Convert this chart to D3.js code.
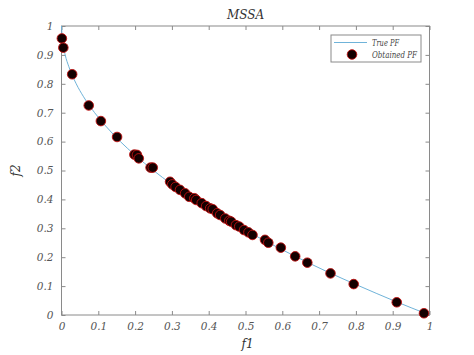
<!DOCTYPE html>
<html>
<head>
<meta charset="utf-8">
<script src="https://cdn.jsdelivr.net/npm/d3@7"></script>
<style>
  body { margin: 0; background: #fff; }
</style>
</head>
<body>
<div id="chart"></div>
<script>
// true Pareto front
var trueF1 = [0, 0.0025, 0.01, 0.02, 0.04, 0.06, 0.09, 0.12, 0.16, 0.2, 0.25, 0.3, 0.36, 0.42, 0.49, 0.56, 0.64, 0.72, 0.81, 0.9, 1];
var trueF2 = [1, 0.95, 0.9, 0.859, 0.8, 0.755, 0.7, 0.654, 0.6, 0.553, 0.5, 0.452, 0.4, 0.352, 0.3, 0.252, 0.2, 0.151, 0.1, 0.051, 0];

// obtained points
var obtF1 = [0.001, 0.005, 0.029, 0.074, 0.107, 0.151, 0.198, 0.205, 0.21, 0.242, 0.248,
             0.295, 0.301, 0.31, 0.322, 0.336, 0.347, 0.361, 0.366, 0.381, 0.393, 0.404, 0.411,
             0.423, 0.431, 0.445, 0.456, 0.461, 0.474, 0.483, 0.496, 0.508, 0.519,
             0.553, 0.562, 0.596, 0.635, 0.668, 0.731, 0.794, 0.911, 0.985];
var obtF2 = [0.957, 0.925, 0.833, 0.725, 0.671, 0.616, 0.555, 0.554, 0.542, 0.51, 0.51,
             0.461, 0.452, 0.443, 0.433, 0.421, 0.409, 0.404, 0.398, 0.387, 0.377, 0.369, 0.366,
             0.352, 0.346, 0.334, 0.326, 0.323, 0.311, 0.306, 0.294, 0.286, 0.277,
             0.26, 0.25, 0.233, 0.203, 0.181, 0.144, 0.107, 0.044, 0.006];

var xTicks = [0, 0.1, 0.2, 0.3, 0.4, 0.5, 0.6, 0.7, 0.8, 0.9, 1];
var yTicks = [0, 0.1, 0.2, 0.3, 0.4, 0.5, 0.6, 0.7, 0.8, 0.9, 1];

var W = 474, H = 355;
var margin = {top: 26, right: 44.5, bottom: 40, left: 61.5};
var width = W - margin.left - margin.right,
    height = H - margin.top - margin.bottom;
var axisColor = '#8a8a8a', labelColor = '#555';
var serif = '"DejaVu Serif", "Liberation Serif", serif';

var svg = d3.select('#chart').append('svg')
    .attr('width', W)
    .attr('height', H)
    .style('font-family', serif)
    .style('font-style', 'italic');

var g = svg.append('g')
    .attr('transform', 'translate(' + margin.left + ',' + margin.top + ')');

var x = d3.scaleLinear().domain([0, 1]).range([0, width]);
var y = d3.scaleLinear().domain([0, 1]).range([height, 0]);

var fmt = function(d) { return d === 0 || d === 1 ? String(d) : d3.format('.1f')(d); };

function styleAxis(sel, showText) {
    sel.attr('font-family', null).attr('font-size', null);
    sel.select('.domain').remove();
    sel.selectAll('line').style('stroke', axisColor);
    sel.selectAll('text')
        .style('fill', labelColor)
        .style('font-size', '10.5px')
        .style('opacity', showText ? 1 : 0);
}

var bottomAxis = g.append('g').attr('transform', 'translate(0,' + height + ')')
    .call(d3.axisBottom(x).tickValues(xTicks).tickFormat(fmt).tickSizeInner(-4).tickSizeOuter(0).tickPadding(8));
styleAxis(bottomAxis, true);
var topAxis = g.append('g')
    .call(d3.axisTop(x).tickValues(xTicks).tickSizeInner(-4).tickSizeOuter(0));
styleAxis(topAxis, false);
var leftAxis = g.append('g')
    .call(d3.axisLeft(y).tickValues(yTicks).tickFormat(fmt).tickSizeInner(-4).tickSizeOuter(0).tickPadding(8));
styleAxis(leftAxis, true);
var rightAxis = g.append('g').attr('transform', 'translate(' + width + ',0)')
    .call(d3.axisRight(y).tickValues(yTicks).tickSizeInner(-4).tickSizeOuter(0));
styleAxis(rightAxis, false);

g.append('rect')
    .attr('width', width).attr('height', height)
    .style('fill', 'none').style('stroke', axisColor).style('stroke-width', 1);

// true PF curve
var trueData = trueF1.map(function(d, i) { return [d, trueF2[i]]; });
var line = d3.line()
    .x(function(d) { return x(d[0]); })
    .y(function(d) { return y(d[1]); })
    .curve(d3.curveMonotoneX);

g.append('path')
    .datum(trueData)
    .attr('d', line)
    .style('fill', 'none')
    .style('stroke', '#6fb3d9')
    .style('stroke-width', 1);

// obtained points
g.selectAll('circle.obt')
    .data(obtF1)
    .enter().append('circle')
    .attr('class', 'obt')
    .attr('cx', function(d) { return x(d); })
    .attr('cy', function(d, i) { return y(obtF2[i]); })
    .attr('r', 4.8)
    .style('fill', '#140000')
    .style('stroke', '#c01010')
    .style('stroke-width', 0.9);

// title and labels
svg.append('text')
    .attr('x', margin.left + width / 2).attr('y', 19)
    .attr('text-anchor', 'middle')
    .style('font-size', '12px').style('fill', '#333')
    .text('MSSA');

svg.append('text')
    .attr('x', margin.left + width / 2 + 2).attr('y', 348)
    .attr('text-anchor', 'middle')
    .style('font-size', '12px').style('fill', '#333')
    .text('f1');

svg.append('text')
    .attr('transform', 'translate(20,' + (margin.top + height / 2) + ') rotate(-90)')
    .attr('text-anchor', 'middle')
    .style('font-size', '12px').style('fill', '#333')
    .text('f2');

// legend
var lg = svg.append('g').attr('transform', 'translate(331,35)');
lg.append('rect')
    .attr('width', 90).attr('height', 27)
    .style('fill', '#fff').style('stroke', axisColor);
lg.append('line')
    .attr('x1', 3).attr('x2', 36).attr('y1', 7.5).attr('y2', 7.5)
    .style('stroke', '#6fb3d9');
lg.append('circle')
    .attr('cx', 21).attr('cy', 19.5).attr('r', 4.8)
    .style('fill', '#140000').style('stroke', '#c01010').style('stroke-width', 0.9);
lg.append('text').attr('x', 41).attr('y', 11)
    .attr('textLength', 27).attr('lengthAdjust', 'spacingAndGlyphs')
    .style('font-size', '9.5px').style('fill', '#444').text('True PF');
lg.append('text').attr('x', 41).attr('y', 23)
    .attr('textLength', 45).attr('lengthAdjust', 'spacingAndGlyphs')
    .style('font-size', '9.5px').style('fill', '#444').text('Obtained PF');
</script>
</body>
</html>
